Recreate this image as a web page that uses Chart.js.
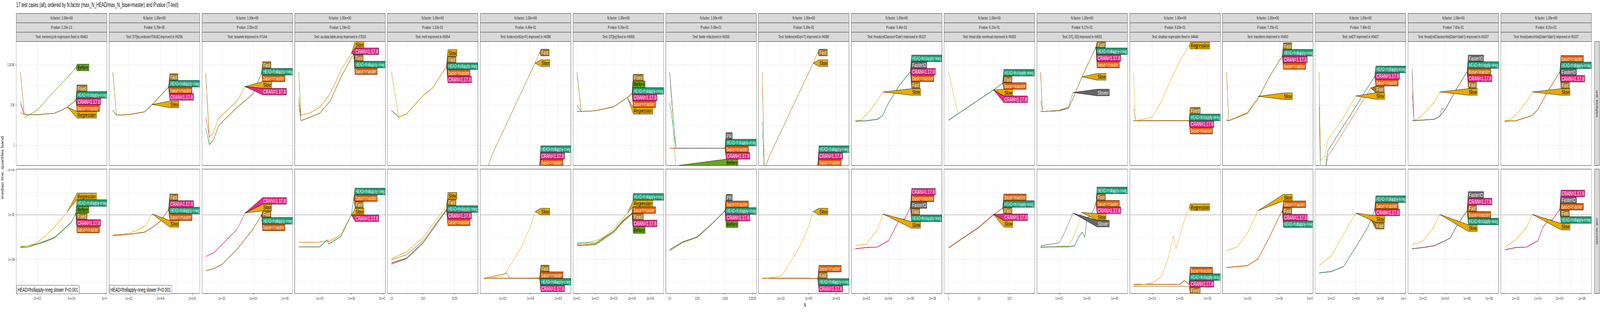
<!DOCTYPE html>
<html>
<head>
<meta charset="utf-8">
<script src="https://cdn.jsdelivr.net/npm/chart.js@4.4.1/dist/chart.umd.min.js"></script>
<style>
  html, body { margin: 0; background: #fff; overflow: hidden; font-family: "Liberation Sans", Arial, sans-serif; }
  #root { position: relative; width: 6800px; height: 800px; overflow: hidden; transform-origin: 0 0; }
  .abs { position: absolute; }
  .strip { position: absolute; background: #D9D9D9; border: 1px solid #333; box-sizing: border-box;
           font-size: 11.5px; color: #1A1A1A; text-align: center; white-space: nowrap; overflow: hidden; }
  canvas { position: absolute; }
</style>
</head>
<body>
<div id="root"></div>
<script>
// ---- text of the facets ----
const titleText = '17 test cases (all), ordered by N.factor (max_N_HEAD/max_N_base=master) and P.value (T-test)';
const nFactors = Array(17).fill('1.00e+00');
const pValues = ['1.19e-13','5.78e-05','2.05e-02','1.24e-01','1.52e-01','4.46e-01','5.05e-01','5.06e-01',
  '5.39e-01','5.46e-01','6.15e-01','6.27e-01','6.83e-01','7.20e-01','7.49e-01','7.83e-01','8.31e-01'];
const testNames = ['memrecycle regression fixed in #5463','DT[by,verbose=TRUE] improved in #6296',
  'isoweek improved in #7144','as.data.table.array improved in #7010','melt improved in #5054',
  'forderv(retGrp=F) improved in #4386','DT[by] fixed in #4558','fwrite refactored in #6393',
  'forderv(retGrp=T) improved in #4386',"fread(colClasses='Date') improved in #6107",
  'fread disk overhead improved in #6925','DT[,.SD] improved in #4501','shallow regression fixed in #4440',
  'transform improved in #5493','setDT improved in #5427',"fread(colClasses=list(Date='date')) improved in #6107",
  "fread(select=list(Date='date')) improved in #6107"];
const unitNames = ['unit: kilobytes', 'unit: seconds'];
const pvalNote = ['HEAD=frollapply-nneg slower P<0.001', 'HEAD=frollapply-nneg slower P<0.001'];

// ---- axes (log10 exponents) ----
const xLimLog = [[0.755,6.09],[0.756,6.47],[0.755,6.49],[0.6,9.24],[0.866,3.75],[0.58,10.4],[0.78,5.73],
  [0.855,4.14],[0.58,10.4],[0.63,8.88],[-0.14,2.84],[0.58,10.4],[0.58,10.4],[0.6,9.24],[0.67,8.1],[0.63,8.88],[0.63,8.88]];
const xMajorLog = [[2,4,6],[2,4,6],[2,4,6],[3,6,9],[1,2,3],[3,6,9],[1,2,3,4,5],[1,2,3,4],[3,6,9],[2,4,6,8],
  [0,1,2],[3,6,9],[3,6,9],[3,6,9],[2,4,6,8],[2,4,6,8],[2,4,6,8]];
const xMinorLog = [[1,3,5],[1,3,5],[1,3,5],[1.5,4.5,7.5],[1.5,2.5,3.5],[1.5,4.5,7.5],[1.5,2.5,3.5,4.5,5.5],
  [1.5,2.5,3.5],[1.5,4.5,7.5],[1,3,5,7],[0.5,1.5,2.5],[1.5,4.5,7.5],[1.5,4.5,7.5],[1.5,4.5,7.5],[1,3,5,7],[1,3,5,7],[1,3,5,7]];
const xPlain = [4, 7, 10];
const yLimLog = [[-1.01, 5.18], [-5.51, 0.05]];
const yMajorLog = [[0, 2, 4], [-4, -2, 0]];
const yMinorLog = [[-1, 1, 3, 5], [-5, -3, -1]];
const yLabels = [['1', '100', '10000'], ['1e-04', '1e-02', '1e+00']];
const secRefLine = 0.01;

// ---- series ----
const H = 'HEAD=frollapply-nneg', B = 'base=master', C = 'CRAN=1.17.8';
const colors = { [H]: '#1B9E77', [B]: '#D95F02', [C]: '#E7298A', Before: '#66A61E', Regression: '#E6AB02',
  Slow: '#E6AB02', Fixed: '#A6761D', Fast: '#A6761D', PR: '#666666', FasterIO: '#666666', Slower: '#666666' };
const darkText = ['Before', 'Regression', 'Slow'];

const k1 = [[17,34],[100,34],[1000,40],[3000,60],[5800,80],[18000,180]];
const k2 = [[17,32],[100,34],[1000,47],[3000,110],[10000,300],[32000,810]];
const k3f = [[17,1.1],[30,1.8],[60,8.5],[100,14],[1000,80],[10000,380],[33000,4100]];
const k3s = [[17,2.6],[30,4.2],[60,20],[100,31],[1000,170],[3000,850]];
const k4o = [[16,17],[1000,40],[10000,170],[100000,2400],[1e6,23000],[1.7e6,36000]];
const k4s = [[16,32],[100,40],[1000,80],[10000,380],[100000,5400],[1e6,38000]];
const k5 = [[17,26],[30,37],[100,300],[200,710],[560,8800]];
const k6s = [[10,0.02],[30,0.1],[63,0.3],[3.2e6,12500]];
const k7 = [[17,49],[100,53],[1000,84],[5600,245]];
const k10o = [[10,16],[100,17],[1000,20],[3000,31],[10000,126],[100000,980],[1e6,4700]];
const k10s = [[10,17],[30,18],[60,27],[100,32],[300,70],[1000,170],[3200,460]];
const k12o = [[16,49],[1000,53],[10000,70],[30000,200],[300000,2600],[9.5e6,78000]];
const k13o = [[16,17],[1e7,17]];
const k14o = [[16,17],[1000,40],[10000,215],[100000,2200],[1e6,16000],[2e6,28000]];
const k15o = [[13,0.05],[32,0.05],[50,0.52],[10000,87],[350000,2700]];
const k16o = [[15,17],[1000,20],[3000,27],[10000,60],[100000,600],[1e6,4700]];
const k17o = [[10,16],[100,17],[1000,25],[3000,31],[10000,60],[100000,600],[1e6,4500]];
const flatLow = [[10,0.03],[1e7,0.03]];

const kbSeries = [
  [['Before',[[17,24],[100,58],[1000,520],[10000,4000],[18000,7600]]],['Fixed',[[10,4500],...k1]],[H,[[10,160],...k1]],
   [C,[[10,110],...k1]],[B,[[10,43],...k1]],['Regression',[[10,4500],...k1.slice(0,5)]]],
  [['Fast',[[10,4300],...k2]],[H,[[10,56],...k2]],[B,[[10,56],...k2]],[C,[[10,56],...k2]],['Slow',[[10,4300],...k2.slice(0,4)]]],
  [['Fast',[[10,4100],...k3f]],[H,[[10,7],...k3f]],[B,[[10,7],...k3f]],['Slow',[[10,4100],...k3s]],[C,[[10,25],...k3s]]],
  [['Fast',[[10,4600],...k4o]],[H,[[10,220],...k4o]],[B,[[10,100],...k4o]],['Slow',[[10,4600],...k4s]],[C,[[10,155],...k4s]]],
  [['Slow',[[10,4300],...k5]],['Fast',[[10,4300],...k5]],[H,[[10,54],...k5]],[B,[[10,54],...k5]],[C,[[10,54],...k5]]],
  [['Fast',[...k6s,[1e7,42000]]],['Slow',k6s],[H,flatLow],[C,flatLow],[B,flatLow]],
  [['Fixed',[[10,4300],...k7,[10000,380]]],['Before',[[10,4300],...k7,[10000,380]]],[H,[[10,100],...k7,[10000,380]]],
   [C,[[10,49],...k7,[10000,380]]],[B,[[10,49],...k7,[10000,380]]],['Regression',[[10,4300],...k7]]],
  [['PR',[[10,4300],[17,0.72],[1000,0.72]]],[H,[[10,137],[17,0.72],[1000,0.72]]],[B,[[10,0.72],[1000,0.72]]],
   [C,[[10,0.72],[1000,0.72]]],['Before',[[10,4300],[17,0.05]]]],
  [['Fast',[[10,4300],[17,0.05],[25,0.09],[56,0.28],[3.2e6,12500],[1e7,42000]]],['Slow',[[10,4300],[17,0.05],[25,0.09],[56,0.28],[3.2e6,12500]]],
   [H,[[10,15],[17,0.03],[1e7,0.03]]],[C,flatLow],[B,flatLow]],
  [[H,k10o],['FasterIO',k10o],[C,k10o],[B,k10o],['Fast',k10o],['Slow',k10s]],
  [[H,[[1,18],[2,37],[30,580],[60,1230]]],['Fast',[[1,18],[2,37],[30,580],[60,1230]]],[B,[[1,18],[2,37],[30,580],[60,1230]]],
   ['Slow',[[1,4500],[2,37],[30,580]]],[C,[[1,18],[2,37],[30,580]]]],
  [['Fast',[[10,4500],...k12o]],[H,[[10,165],...k12o]],[C,[[10,49],...k12o]],[B,[[10,49],...k12o]],
   ['Slow',[[10,4500],...k12o.slice(0,5)]],['Slower',[[10,4500],[16,49],[1000,56],[10000,80],[32000,430]]]],
  [['Regression',[[10,4300],[16,17],[1000,25],[10000,155],[100000,1700],[1e6,16000],[1e7,93000]]],['Fixed',[[10,67],...k13o]],
   [H,[[10,17],...k13o]],[C,[[10,17],...k13o]],[B,[[10,17],...k13o]]],
  [['Fast',[[10,4500],...k14o]],[H,[[10,20],...k14o]],[C,[[10,17],...k14o]],[B,[[10,17],...k14o]],
   ['Slow',[[10,4500],[16,17],[1000,45],[10000,280]]]],
  [[H,[[10,83],...k15o]],[C,[[10,0.05],...k15o]],[B,[[10,0.05],...k15o]],['Fast',[[10,4300],[13,0.05],[32,0.05],[50,0.27],[170000,720]]],
   ['Slow',[[10,4300],[13,0.18],[32,0.3],[50,1.8],[1000,25],[10000,290]]]],
  [['FasterIO',[[10,7000],[15,17],[1000,20],[3000,27],[5000,70],[10000,60],[100000,600],[1e6,4700]]],[H,[[10,17],...k16o]],
   [B,[[10,17],...k16o]],[C,[[10,430],...k16o]],['Fast',[[10,4700],...k16o]],
   ['Slow',[[10,4700],[15,18],[30,20],[60,28],[100,36],[1000,140],[3200,460]]]],
  [[B,k17o],[H,k17o],['FasterIO',k17o],[C,k17o],['Fast',k17o],['Slow',[[10,17],[30,19],[100,32],[1000,155],[3200,460]]]]
];

const s1 = [[10,3.5e-4],[30,3.7e-4],[100,4.9e-4],[300,6.5e-4],[1000,9.5e-4],[3000,2e-3],[10000,4.7e-3],[18000,1.17e-2]];
const s2 = [[10,1.2e-3],[100,1.35e-3],[1000,1.7e-3],[3000,2.7e-3],[10000,5.3e-3],[32000,1.7e-2]];
const s3f = [[10,3.2e-5],[30,4e-5],[100,6e-5],[1000,3.1e-4],[10000,2.4e-3],[33000,1e-2]];
const s3s = [[10,1.4e-4],[30,2e-4],[100,4.6e-4],[1000,2.4e-3],[3000,1.2e-2]];
const s4o = [[10,3.7e-4],[1000,3.8e-4],[5000,7.7e-4],[7000,5e-4],[100000,1.1e-3],[1e6,1e-2],[1.7e6,5.6e-2]];
const s4s = [[10,6e-4],[1000,6.2e-4],[10000,7e-4],[100000,1.3e-3],[1e6,1e-2]];
const s6s = [[10,1.4e-5],[1000,1.9e-5],[3000,3.2e-5],[10000,7.4e-5],[100000,3.5e-4],[1e6,2.9e-3],[3.2e6,1.4e-2]];
const s6o = [[10,1.5e-5],[1000,1.5e-5],[1e6,1.5e-5],[1e7,1.45e-5]];
const s7o = [[10,4.5e-4],[100,5e-4],[1000,1.8e-3],[3000,5e-3],[10000,1.15e-2]];
const s8 = [[10,2.8e-4],[30,6.3e-4],[100,1.05e-3],[300,3.5e-3],[1000,1.5e-2]];
const s10o = [[10,3.1e-4],[100,3.5e-4],[1000,3.7e-4],[10000,7e-4],[100000,6e-3],[300000,6.5e-3],[1e6,2.2e-2]];
const s11o = [[1,3.4e-4],[10,2.8e-3],[30,1e-2],[60,2e-2]];
const s12o = [[10,3.7e-4],[10000,3.8e-4],[50000,4.2e-4],[100000,8.5e-4],[300000,1.7e-3],[600000,1e-3],[1e6,6.7e-3],[3e6,1e-2],[9.5e6,3e-2]];
const s13o = [[10,8e-6],[1000,8e-6],[1e6,8e-6],[3e6,1.2e-5],[1e7,8e-6]];
const s14o = [[10,4.5e-5],[1000,5.5e-5],[10000,1.1e-4],[100000,8.6e-4],[1e6,8.1e-3],[2e6,1.5e-2]];
const s15o = [[10,2.6e-5],[100,3e-5],[1000,5e-5],[10000,3.7e-4],[100000,2.9e-3],[350000,1.7e-2]];
const s16o = [[10,3.1e-4],[100,3.5e-4],[1000,4.2e-4],[10000,7e-4],[30000,9.5e-4],[100000,2.9e-3],[300000,6.7e-3],[1e6,1.5e-2]];
const s17o = [[10,2.8e-4],[100,3.5e-4],[1000,3.7e-4],[10000,7e-4],[30000,2.9e-3],[100000,6e-3],[200000,5.8e-3],[1e6,1.8e-2]];

const secSeries = [
  [['Regression',[[10,3.7e-4],[30,4.2e-4],[100,5.9e-4],[300,1.2e-3],[1000,2.9e-3],[3000,7.5e-3],[5800,1.44e-2]]],['Before',s1],
   [H,[[10,4e-4],[30,4.1e-4],[100,5.2e-4],[300,7e-4],[1000,1e-3],[3000,2.1e-3],[10000,4.9e-3],[18000,1.2e-2]]],['Fixed',s1],[C,s1],[B,s1]],
  [['Fast',s2],[C,s2],[H,s2],[B,s2],['Slow',[[10,1.25e-3],[100,1.5e-3],[300,2e-3],[1000,3.1e-3],[2000,6.5e-3],[3000,1.1e-2]]]],
  [[C,s3s],['Slow',s3s],['Fast',s3f],[H,s3f],[B,s3f]],
  [[H,s4o],[B,s4o],['Fast',s4o],['Slow',s4s],[C,s4s]],
  [['Slow',[[10,1.1e-4],[30,2.3e-4],[100,9.5e-4],[560,2.5e-2]]],['Fast',[[10,1e-4],[30,1.7e-4],[100,7e-4],[560,1.8e-2]]],
   [H,[[10,7.4e-5],[30,1.2e-4],[100,5.8e-4],[560,1.7e-2]]],[C,[[10,6.3e-5],[30,1.1e-4],[100,5.5e-4],[560,1.65e-2]]],
   [B,[[10,7e-5],[30,1.15e-4],[100,5.6e-4],[560,1.6e-2]]]],
  [['Slow',s6s],['Fast',[[10,1.5e-5],[3000,2.5e-5],[6000,1.5e-5],[1e7,1.55e-5]]],[B,s6o],[H,s6o],[C,s6o]],
  [[H,[[10,5.6e-4],[100,5.6e-4],[1000,1.9e-3],[3000,5.5e-3],[10000,1.2e-2]]],[B,s7o],['Fixed',s7o],[C,s7o],
   ['Regression',[[10,5e-4],[100,7e-4],[300,1.05e-3],[1000,2.4e-3],[5600,1.2e-2]]],
   ['Before',[[10,4.3e-4],[100,4.6e-4],[1000,1.6e-3],[3000,4.5e-3],[10000,1.1e-2]]]],
  [['PR',s8],[B,s8],[H,s8],[C,s8],['Before',[[10,2.5e-4],[30,5.8e-4],[100,1e-3],[300,3.4e-3],[1000,1.5e-2]]]],
  [['Slow',s6s],[B,s6o],['Fast',s6o],[H,s6o],[C,s6o]],
  [[C,s10o],[B,s10o],['FasterIO',s10o],['Fast',s10o],[H,s10o],['Slow',[[10,4.2e-4],[100,5e-4],[1000,2.2e-3],[3200,1.1e-2]]]],
  [[B,s11o],[H,s11o],['Fast',s11o],[C,[[1,3.5e-4],[10,2.9e-3],[30,1.05e-2]]],['Slow',[[1,3.5e-4],[10,2.9e-3],[30,1.05e-2]]]],
  [[H,s12o],['Fast',s12o],[B,s12o],[C,s12o],
   ['Slow',[[10,3.5e-4],[10000,4.2e-4],[30000,8.6e-4],[100000,2.9e-3],[270000,1.3e-2]]],
   ['Slower',[[10,4.2e-4],[1000,5.7e-4],[3000,1.3e-3],[10000,4e-3],[32000,1.2e-2]]]],
  [['Regression',[[10,7e-6],[1000,9e-6],[10000,1.8e-5],[50000,1e-4],[200000,1.15e-3],[400000,3.1e-4],[1e6,1.15e-3],[3e6,5.5e-3],[1e7,2.2e-2]]],
   [B,s13o],[H,s13o],[C,s13o],['Fixed',[[10,6.5e-6],[1e7,6.5e-6]]]],
  [['Slow',[[10,2.6e-4],[100,3.7e-4],[1000,1.6e-3],[10000,1.55e-2]]],[B,s14o],['Fast',s14o],[C,s14o],[H,s14o]],
  [[H,s15o],[B,s15o],[C,s15o],['Slow',[[10,5.5e-5],[100,1.5e-4],[1000,1.4e-3],[10000,1.2e-2]]],
   ['Fast',[[10,2.6e-5],[100,3e-5],[1000,5e-5],[10000,3.7e-4],[100000,2.9e-3],[170000,6e-3]]]],
  [['FasterIO',s16o],[C,s16o],['Fast',s16o],[B,s16o],[H,s16o],['Slow',[[10,4.2e-4],[15,5.5e-4],[30,5.2e-4],[100,7e-4],[1000,2.9e-3],[3200,1.05e-2]]]],
  [[C,s17o],['FasterIO',s17o],[B,s17o],['Fast',s17o],[H,s17o],['Slow',[[10,3.7e-4],[100,7.7e-4],[1000,2.9e-3],[3200,1.05e-2]]]]
];

// ---- layout ----
const root = document.getElementById('root');
// the browser may be narrower than the figure: squeeze horizontally to fit
const fitX = Math.min(1, (window.innerWidth || 6800) / 6800);
root.style.transform = 'scale(' + fitX + ',1)';

const L0 = 69, STEP = 394.3, PW = 386;
const rowTop = [106, 433], rowH = [319, 320], XAXIS_H = 26, YAXIS_W = 69;
const FONT = '"Liberation Sans", Arial, sans-serif';

function div(cls, css, text) {
  const d = document.createElement('div');
  d.className = cls;
  Object.assign(d.style, css);
  if (text !== undefined) d.textContent = text;
  root.appendChild(d);
  return d;
}
const sci = e => '1e' + (e < 0 ? '-' : '+') + String(Math.abs(e)).padStart(2, '0');
const plain = e => String(Math.round(Math.pow(10, e)));

div('abs', { left: '69px', top: '4px', fontSize: '16px', color: '#000', whiteSpace: 'nowrap' }, titleText);
div('abs', { left: '10px', top: '430px', fontSize: '13.5px', color: '#000', whiteSpace: 'nowrap',
  transform: 'translate(-50%,-50%) rotate(-90deg)' }, 'median line, quartiles band');
div('abs', { left: '3421px', top: '774px', fontSize: '14px', color: '#000', transform: 'translateX(-50%)' }, 'N');
unitNames.forEach((u, r) => {
  const s = div('strip', { left: '6776px', top: rowTop[r] + 'px', width: '22px', height: rowH[r] + 'px' });
  const t = document.createElement('div');
  Object.assign(t.style, { position: 'absolute', left: '50%', top: '50%', whiteSpace: 'nowrap',
    transform: 'translate(-50%,-50%) rotate(90deg)' });
  t.textContent = u;
  s.appendChild(t);
});

const panelPlugin = {
  id: 'panelDecor',
  beforeDatasetsDraw(chart) {
    const o = chart.options.plugins.panelDecor, a = chart.chartArea, ctx = chart.ctx;
    if (o.row === 1) {
      const y = chart.scales.y.getPixelForValue(secRefLine);
      ctx.save(); ctx.strokeStyle = '#BEBEBE'; ctx.lineWidth = 1.6;
      ctx.beginPath(); ctx.moveTo(a.left, y); ctx.lineTo(a.right, y); ctx.stroke(); ctx.restore();
    }
  },
  afterDatasetsDraw(chart) {
    const a = chart.chartArea, ctx = chart.ctx, xs = chart.scales.x, ys = chart.scales.y;
    const h = 17;
    const items = chart.data.datasets.map((d, k) => {
      const last = d.data[d.data.length - 1];
      const ex = Math.min(xs.getPixelForValue(last.x), a.right);
      const ey = Math.max(a.top, Math.min(a.bottom, ys.getPixelForValue(last.y)));
      return { k, name: d.label, ex, ey, t: Math.max(a.top + h / 2, Math.min(a.bottom - h / 2, ey)) };
    });
    const bx = Math.max(...items.map(i => i.ex)) + 5;
    items.sort((p, q) => (p.t - q.t) || (p.k - q.k));
    let clusters = items.map(i => ({ members: [i], c: i.t }));
    let merged = true;
    while (merged) {
      merged = false;
      for (let j = 0; j + 1 < clusters.length; j++) {
        const A = clusters[j], Bc = clusters[j + 1];
        if (A.c + A.members.length * h / 2 > Bc.c - Bc.members.length * h / 2) {
          const m = A.members.concat(Bc.members);
          clusters.splice(j, 2, { members: m, c: m.reduce((s, i) => s + i.t, 0) / m.length });
          merged = true; break;
        }
      }
    }
    clusters.forEach(cl => {
      let top = cl.c - cl.members.length * h / 2;
      top = Math.max(a.top, Math.min(a.bottom - cl.members.length * h, top));
      cl.members.forEach((m, j) => { m.y = top + j * h; });
    });
    ctx.save();
    ctx.beginPath(); ctx.rect(a.left, a.top, a.right - a.left, a.bottom - a.top); ctx.clip();
    items.forEach(m => {
      const isHead = m.name === H;
      ctx.font = (isHead ? '12.5px ' : '15.5px ') + FONT;
      const w = ctx.measureText(m.name).width + 5;
      ctx.beginPath();
      ctx.moveTo(m.ex, m.ey); ctx.lineTo(bx, m.y); ctx.lineTo(bx + w, m.y);
      ctx.lineTo(bx + w, m.y + h); ctx.lineTo(bx, m.y + h); ctx.closePath();
      ctx.fillStyle = colors[m.name]; ctx.fill();
      ctx.strokeStyle = '#000'; ctx.lineWidth = 0.8; ctx.stroke();
      ctx.fillStyle = darkText.includes(m.name) ? '#000' : '#fff';
      ctx.textBaseline = 'middle';
      ctx.fillText(m.name, bx + 2.5, m.y + h / 2 + 1);
    });
    ctx.restore();
  },
  afterDraw(chart) {
    const a = chart.chartArea, ctx = chart.ctx;
    ctx.save(); ctx.strokeStyle = '#333'; ctx.lineWidth = 1;
    ctx.strokeRect(a.left + 0.5, a.top + 0.5, a.right - a.left - 1, a.bottom - a.top - 1);
    ctx.restore();
  }
};

function axisTicks(major, minor, fmt) {
  const all = major.map(e => ({ e, major: true })).concat(minor.map(e => ({ e, major: false })))
    .sort((p, q) => p.e - q.e);
  return { values: all.map(t => Math.pow(10, t.e)), isMajor: all.map(t => t.major),
    labels: all.map(t => t.major ? fmt(t.e) : '') };
}

// fixed axis size and no extra padding from edge tick labels
function fixSize(s, w, h) {
  if (w !== null) s.width = w;
  if (h !== null) s.height = h;
  s.paddingTop = 0; s.paddingBottom = 0; s.paddingLeft = 0; s.paddingRight = 0;
}

function makePanel(i, row) {
  const left = Math.round(L0 + STEP * i);
  const yw = i === 0 ? YAXIS_W : 0;
  const xh = row === 1 ? XAXIS_H : 0;
  const cv = document.createElement('canvas');
  const W = PW + yw, Hh = rowH[row] + xh;
  cv.width = W; cv.height = Hh;
  Object.assign(cv.style, { left: (left - yw) + 'px', top: rowTop[row] + 'px', width: W + 'px', height: Hh + 'px' });
  root.appendChild(cv);

  const xt = axisTicks(xMajorLog[i], xMinorLog[i], xPlain.includes(i) ? plain : sci);
  const yt = axisTicks(yMajorLog[row], yMinorLog[row], e => yLabels[row][yMajorLog[row].indexOf(e)]);
  const series = (row === 0 ? kbSeries : secSeries)[i];

  const gridOpts = (t, showTicks) => ({
    color: '#EBEBEB',
    lineWidth: c => (t.isMajor[c.index] ? 1.2 : 0.6),
    drawTicks: showTicks, tickLength: 3, tickWidth: 1,
    tickColor: c => (t.isMajor[c.index] ? '#333' : 'rgba(0,0,0,0)')
  });

  new Chart(cv, {
    type: 'line',
    data: {
      datasets: series.map(([name, pts]) => ({
        label: name,
        data: pts.map(([x, y]) => ({ x, y })),
        borderColor: colors[name], backgroundColor: colors[name],
        borderWidth: 1.4, pointRadius: 0, tension: 0, clip: 0
      }))
    },
    options: {
      responsive: false, animation: false, devicePixelRatio: 1,
      layout: { padding: 0, autoPadding: false },
      events: [],
      plugins: { legend: { display: false }, tooltip: { enabled: false },
        panelDecor: { row } },
      scales: {
        x: {
          type: 'logarithmic',
          min: Math.pow(10, xLimLog[i][0]), max: Math.pow(10, xLimLog[i][1]),
          afterBuildTicks: s => { s.ticks = xt.values.map(v => ({ value: v })); },
          afterFit: s => fixSize(s, null, xh),
          grid: gridOpts(xt, row === 1),
          border: { display: false },
          ticks: { display: row === 1, autoSkip: false, maxRotation: 0, padding: 3,
            color: '#4D4D4D', font: { family: FONT, size: 11.5 },
            callback: (v, idx) => xt.labels[idx] }
        },
        y: {
          type: 'logarithmic',
          min: Math.pow(10, yLimLog[row][0]), max: Math.pow(10, yLimLog[row][1]),
          afterBuildTicks: s => { s.ticks = yt.values.map(v => ({ value: v })); },
          afterFit: s => fixSize(s, yw, null),
          grid: gridOpts(yt, i === 0),
          border: { display: false },
          ticks: { display: i === 0, autoSkip: false, padding: 3,
            color: '#4D4D4D', font: { family: FONT, size: 11.5 },
            callback: (v, idx) => yt.labels[idx] }
        }
      }
    },
    plugins: [panelPlugin]
  });
}

for (let i = 0; i < 17; i++) {
  const left = Math.round(L0 + STEP * i);
  ['N.factor: ' + nFactors[i], 'P.value: ' + pValues[i], 'Test: ' + testNames[i]].forEach((t, r) => {
    div('strip', { left: left + 'px', top: (34 + r * 24) + 'px', width: PW + 'px', height: '25px', lineHeight: '23px' }, t);
  });
  makePanel(i, 0);
  makePanel(i, 1);
}
pvalNote.forEach((t, i) => {
  const left = Math.round(L0 + STEP * i);
  div('abs', { left: (left + 1) + 'px', top: '731px', height: '21px', lineHeight: '21px', padding: '0 4px',
    border: '1px solid #333', borderRadius: '2px', background: '#fff', fontSize: '15px', color: '#000',
    whiteSpace: 'nowrap' }, t);
});
</script>
</body>
</html>
